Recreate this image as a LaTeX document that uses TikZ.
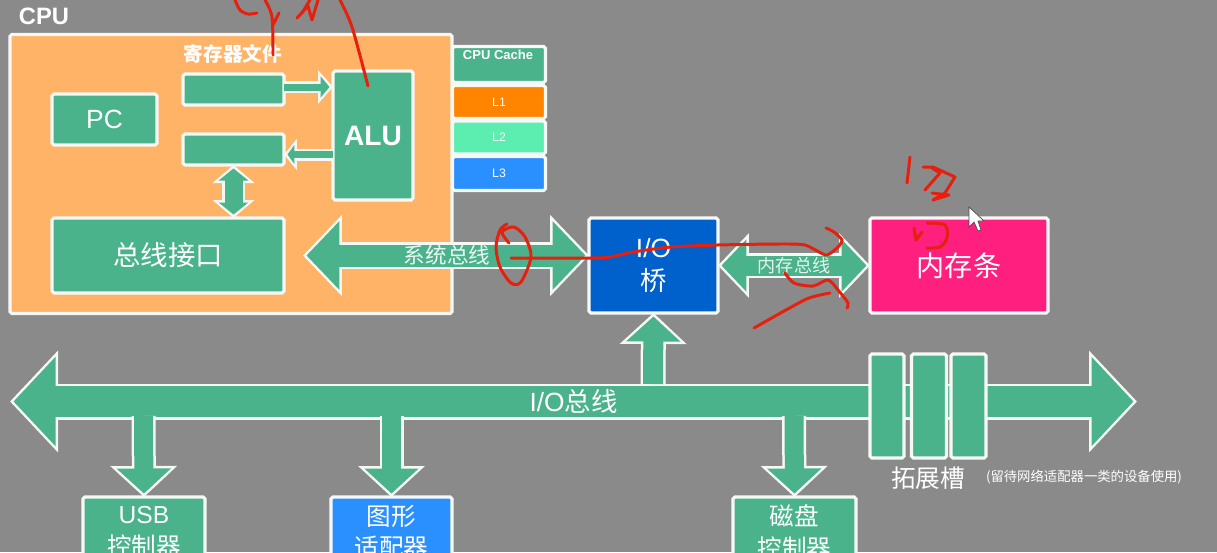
\documentclass[tikz,border=0pt]{standalone}
\usepackage{fontspec}
\setmainfont{Noto Sans CJK SC}
\newfontfamily\latinfont{Liberation Sans}
\usetikzlibrary{arrows.meta}
\definecolor{bggray}{HTML}{8A8A8A}
\definecolor{edgewhite}{HTML}{F6F8F6}
\definecolor{busgreen}{HTML}{4AB38B}
\definecolor{cpuorange}{HTML}{FFB366}
\definecolor{lone}{HTML}{FF8500}
\definecolor{ltwo}{HTML}{5CEDB0}
\definecolor{lthree}{HTML}{2B90FF}
\definecolor{iblue}{HTML}{0060CC}
\definecolor{mempink}{HTML}{FF1F7E}
\definecolor{inkred}{HTML}{E6200F}
\newcommand{\fs}[1]{\fontsize{#1}{#1}\selectfont}
\tikzset{
  box/.style={draw=edgewhite,fill=busgreen,text=white,line width=1.8pt,rounded corners=1pt,inner sep=0pt,outer sep=0pt,align=center},
  lbl/.style={text=white,inner sep=0pt},
  ink/.style={draw=inkred,line width=1.7pt,line cap=round,line join=round},
  pipe/.style n args={3}{draw=edgewhite,line width=(#1+5)*0.02cm,
    -{Triangle[length=(#2+6)*0.02cm,width=(#3+12)*0.02cm]},
    postaction={draw=busgreen,line width=#1*0.02cm,
    -{Triangle[length=#2*0.02cm,width=#3*0.02cm,sep=0.07cm]}}},
  bus/.style n args={3}{draw=edgewhite,line width=(#1+5)*0.02cm,
    {Triangle[length=(#2+6)*0.02cm,width=(#3+12)*0.02cm]}-{Triangle[length=(#2+6)*0.02cm,width=(#3+12)*0.02cm]},
    postaction={draw=busgreen,line width=#1*0.02cm,
    {Triangle[length=#2*0.02cm,width=#3*0.02cm,sep=0.07cm]}-{Triangle[length=#2*0.02cm,width=#3*0.02cm,sep=0.07cm]}}}
}
\begin{document}
\begin{tikzpicture}[x=0.02cm,y=-0.02cm]
\useasboundingbox (0,0) rectangle (1217,552);
\clip (0,0) rectangle (1217,552);
\fill[bggray] (0,0) rectangle (1217,552);
\node[lbl,font=\latinfont\bfseries\fs{13.5}] (cpulabel) at (44,16) {CPU};
\node[box,fill=cpuorange,minimum width=8.84cm,minimum height=5.58cm] (cpu) at (231,174) {};
\node[box,minimum width=1.86cm,minimum height=0.72cm] (cache) at (499,64.5) {};
\node[lbl,font=\latinfont\bfseries\fs{7.4}] (cachelabel) at (498,55) {CPU Cache};
\node[box,fill=lone,font=\latinfont\fs{7},minimum width=1.86cm,minimum height=0.66cm] (lonebox) at (499,102) {L1};
\node[box,fill=ltwo,font=\latinfont\fs{7},minimum width=1.86cm,minimum height=0.66cm] (ltwobox) at (499,137.5) {L2};
\node[box,fill=lthree,font=\latinfont\fs{7},minimum width=1.86cm,minimum height=0.68cm] (lthreebox) at (499,173.5) {L3};
\node[lbl,font=\bfseries\fs{11.2}] (regfile) at (233,54) {寄存器文件};
\node[box,minimum width=2.02cm,minimum height=0.62cm] (regtop) at (233.5,89.5) {};
\node[box,minimum width=2.02cm,minimum height=0.62cm] (regbot) at (233.5,149.5) {};
\node[box,font=\latinfont\fs{15},minimum width=2.1cm,minimum height=1.02cm] (pc) at (104.5,119.5) {PC};
\node[box,font=\latinfont\bfseries\fs{16},minimum width=1.6cm,minimum height=2.58cm] (alu) at (373,135.5) {ALU};
\node[box,font=\fs{15.6},minimum width=4.64cm,minimum height=1.5cm] (busif) at (168,255.5) {总线接口};
\node[box,fill=iblue,font=\fs{15},minimum width=2.58cm,minimum height=1.9cm] (iobridge) at (653.5,265.5) {{\latinfont I/O}\\[4pt]桥};
\node[box,fill=mempink,font=\fs{16},minimum width=3.56cm,minimum height=1.9cm] (mem) at (959,265.5) {内存条};
\draw[pipe={7}{9}{21}] ([yshift=0.05cm]regtop.east) -- ([yshift=0.05cm]regtop.east -| alu.west);
\draw[pipe={7}{7}{19}] ([yshift=-0.1cm]alu.west |- regbot.east) -- ([yshift=-0.1cm]regbot.east);
\draw[bus={18}{12}{29}] (regbot.south) -- (regbot.south |- busif.north);
\draw[bus={22}{33}{67},shorten <=0.38cm] (busif.east) -- node[pos=0.535,lbl,text=white!90!busgreen,font=\fs{12.3}] (sysbus) {系统总线} (busif.east -| iobridge.west);
\draw[bus={20}{25}{51}] (iobridge.east) -- node[lbl,text=white!85!busgreen,font=\fs{10.3}] (membus) {内存总线} (mem.west);
\coordinate (iobusl) at (10,401.5);
\coordinate (iobusr) at (1137,401.5);
\coordinate (iotap) at (653,384);
\coordinate (usbtap) at (143.5,416);
\coordinate (gputap) at (391.5,416);
\coordinate (disktap) at (794,416);
\draw[bus={31}{42}{87}] (iobusl) -- node[lbl,font=\fs{15}] (iobus) {{\latinfont I/O}总线} (iobusr);
\node[box,minimum width=0.68cm,minimum height=2.08cm] (slotone) at (887,406) {};
\node[box,minimum width=0.7cm,minimum height=2.08cm] (slottwo) at (929,406) {};
\node[box,minimum width=0.7cm,minimum height=2.08cm] (slotthree) at (968.5,406) {};
\node[lbl,font=\fs{14}] (slotlabel) at (928,478) {拓展槽};
\node[lbl,font=\fs{7.6}] (slotnote) at (1084,477) {(留待网络适配器一类的设备使用)};
\node[box,font=\fs{14},minimum width=2.44cm,minimum height=1.4cm] (usb) at (144,532) {{\latinfont USB}\\[4pt]控制器};
\node[box,fill=lthree,font=\fs{14},minimum width=2.42cm,minimum height=1.4cm] (gpu) at (391.5,532) {图形\\[4pt]适配器};
\node[box,font=\fs{14},minimum width=2.46cm,minimum height=1.4cm] (disk) at (794.5,532) {磁盘\\[4pt]控制器};
\draw[pipe={20}{25}{53}] (iotap) -- (iobridge.south);
\draw[pipe={19}{25}{53}] (usbtap) -- (usb.north);
\draw[pipe={19}{25}{53}] (gputap) -- (gpu.north);
\draw[pipe={19}{25}{53}] (disktap) -- (disk.north);
\draw[ink] plot[smooth] coordinates {(235,0) (240,10) (248,14) (257,13)};
\draw[ink] plot[smooth] coordinates {(265,0) (272,17) (273,55)};
\draw[ink] (279,13) -- (273,25);
\draw[ink] (297,18) -- (308,6) -- (312,20) -- (318,0);
\draw[ink] (302,13) -- (310,0);
\draw[ink] plot[smooth] coordinates {(340,0) (352,27) (368,86)};
\draw[ink] plot[smooth] coordinates {(507,224) (500,230) (496,247) (500,267) (511,283) (521,282) (531,257) (525,237) (514,227) (502,232) (509,243)};
\draw[ink] plot[smooth,tension=0.4] coordinates {(511,258) (591,258) (610,257) (633,252) (671,247) (717,245) (778,244) (805,245) (826,255) (838,247) (842,240) (834,232) (826,228)};
\draw[ink] plot[smooth,tension=0.5] coordinates {(785,273) (794,283) (813,286) (828,280) (838,290) (848,303) (847,308)};
\draw[ink] plot[smooth] coordinates {(754,328) (786,310) (809,298) (830,293)};
\draw[ink] (910,157) -- (907,183);
\draw[ink] (923,167) -- (933,167) -- (955,177) -- (945,193) -- (933,200) -- (949,195) -- (932,193);
\draw[ink] (925,190) -- (940,173) -- (932,168);
\draw[ink] plot[smooth,tension=0.5] coordinates {(927,223) (945,225) (947,238) (940,247) (927,248)};
\draw[ink] (914,228) -- (916,240) -- (922,232);
\draw[fill=white,draw=black!70,line width=0.4pt] (969,207) -- (969,227) -- (974,222) -- (978,231) -- (981,230) -- (978,221) -- (984,221) -- cycle;
\end{tikzpicture}
\end{document}
